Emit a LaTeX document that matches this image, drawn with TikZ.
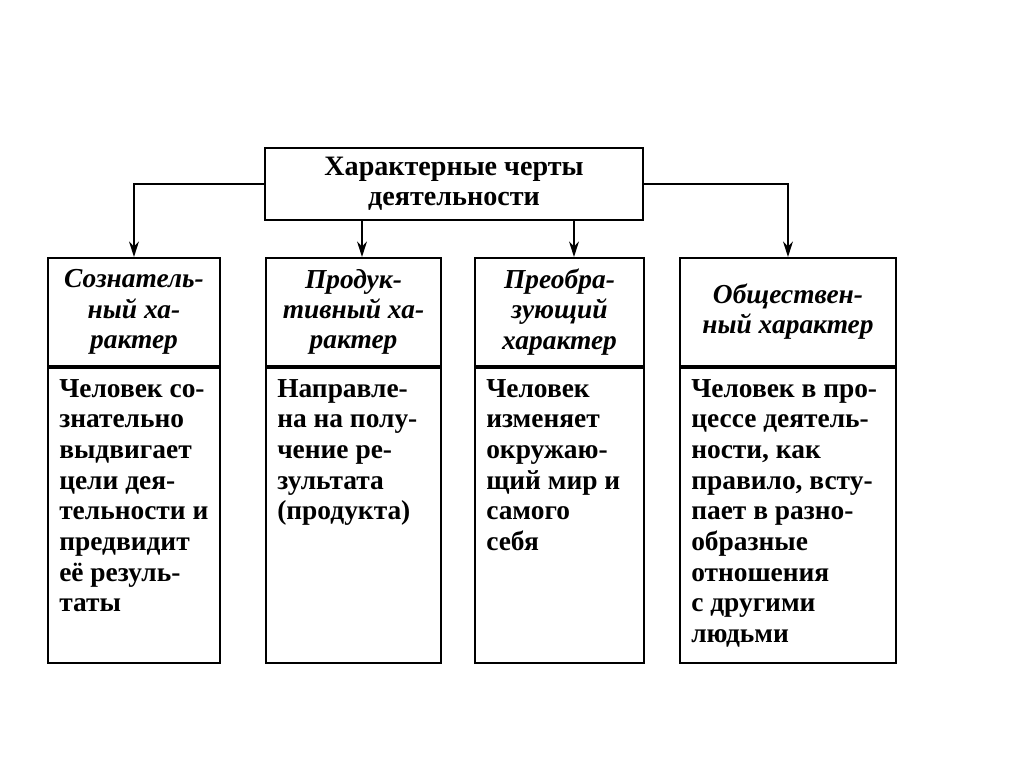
\documentclass[tikz,border=0pt]{standalone}
\usepackage{fontspec}
\setmainfont{Liberation Serif}
\usetikzlibrary{arrows.meta,positioning}
\tikzstyle{topbox}=[rectangle, draw, line width=1.4pt, align=center, font=\fontsize{20}{21.5}\selectfont\bfseries, minimum width=9.45cm, minimum height=1.8cm]
\tikzstyle{headbox}=[rectangle, draw, line width=1.4pt, align=center, font=\fontsize{19.5}{21.5}\selectfont\bfseries\itshape, minimum height=2.7cm, anchor=north west, inner sep=1pt]
\tikzstyle{bodybox}=[rectangle, draw, line width=1.4pt, minimum height=7.375cm, anchor=north west]
\tikzstyle{bodytext}=[align=left, font=\fontsize{19.5}{21.8}\selectfont\bfseries, anchor=north west, inner sep=0pt]
\tikzstyle{arr}=[-{Stealth[length=11pt,width=7pt]}, line width=1.4pt]

\begin{document}
\begin{tikzpicture}[x=1cm,y=1cm]
\useasboundingbox (0,0) rectangle (25.6,-19.175);

\node[topbox] (top) at (11.35,-4.6) {Характерные черты\\деятельности};

\node[headbox, minimum width=4.3cm] (h1) at (1.175,-6.425) {Сознатель-\\ный ха-\\рактер};
\node[headbox, minimum width=4.375cm] (h2) at (6.625,-6.425) {Продук-\\тивный ха-\\рактер};
\node[headbox, minimum width=4.225cm] (h3) at (11.85,-6.425) {Преобра-\\зующий\\характер};
\node[headbox, minimum width=5.4cm] (h4) at (16.975,-6.425) {Обществен-\\ный характер};

\node[bodybox, minimum width=4.3cm] (b1) at (h1.south west) {};
\node[bodybox, minimum width=4.375cm] (b2) at (h2.south west) {};
\node[bodybox, minimum width=4.225cm] (b3) at (h3.south west) {};
\node[bodybox, minimum width=5.4cm] (b4) at (h4.south west) {};

\node[bodytext] (t1) at ([xshift=0.3cm,yshift=-0.3cm]b1.north west) {Человек со-\\знательно\\выдвигает\\цели дея-\\тельности и\\предвидит\\её резуль-\\таты};
\node[bodytext] (t2) at ([xshift=0.3cm,yshift=-0.3cm]b2.north west) {Направле-\\на на полу-\\чение ре-\\зультата\\(продукта)};
\node[bodytext] (t3) at ([xshift=0.3cm,yshift=-0.3cm]b3.north west) {Человек\\изменяет\\окружаю-\\щий мир и\\самого\\себя};
\node[bodytext] (t4) at ([xshift=0.3cm,yshift=-0.3cm]b4.north west) {Человек в про-\\цессе деятель-\\ности, как\\правило, всту-\\пает в разно-\\образные\\отношения\\с другими\\людьми};

\coordinate (a2) at (9.05,-6.425);
\coordinate (a3) at (14.35,-6.425);
\draw[arr] (top.west) -| (h1.north);
\draw[arr] (top.east) -| (h4.north);
\draw[arr] (top.south -| a2) -- (a2);
\draw[arr] (top.south -| a3) -- (a3);

\end{tikzpicture}
\end{document}
